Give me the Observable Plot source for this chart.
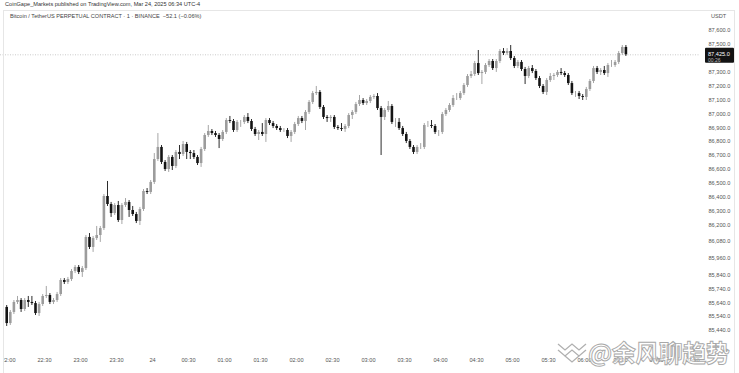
<!DOCTYPE html>
<html>
<head>
<meta charset="utf-8">
<script src="https://cdn.jsdelivr.net/npm/d3@7"></script>
<script src="https://cdn.jsdelivr.net/npm/@observablehq/plot@0.6"></script>
<style>
  html, body { margin: 0; padding: 0; background: #fff; }
  #wrap { position: relative; width: 739px; height: 373px; overflow: hidden; font-family: "Liberation Sans", Arial, sans-serif; }
  #chart { position: absolute; left: 0; top: 10px; width: 739px; }
  #chart svg { display: block; max-width: none; }
  #mask { position: absolute; left: 0; top: 345px; width: 4px; height: 28px; background: #fff; }
  .t { position: absolute; white-space: nowrap; font-size: 5.6px; color: #444; }
  #border { position: absolute; left: 3px; top: 10px; width: 732px; height: 380px; border: 1px solid #e6e6e6; box-sizing: border-box; }
  #wm { position: absolute; left: 588px; top: 334px; font-family: "Noto Sans CJK SC", sans-serif; font-weight: 700; font-size: 24px; letter-spacing: -0.5px; color: rgba(255,255,255,0.55); -webkit-text-stroke: 0.9px #a8a8a8; white-space: nowrap; }
  #logo { position: absolute; left: 556px; top: 338px; }
</style>
</head>
<body>
<div id="wrap">
  <div id="chart"></div>
  <div id="mask"></div>
  <div id="border"></div>
  <div class="t" style="left:5px; top:1px; color:#333;">CoinGape_Markets published on TradingView.com, Mar 24, 2025 06:34 UTC-4</div>
  <div class="t" style="left:10px; top:13px;">Bitcoin / TetherUS PERPETUAL CONTRACT · 1 · BINANCE &nbsp;−52.1 (−0.06%)</div>
  <div class="t" style="left:711px; top:13px; color:#555;">USDT</div>
  <svg id="logo" width="32" height="26" viewBox="0 0 32 26">
    <g fill="none" stroke="#b0b0b0" stroke-width="1.3">
      <path d="M2 6 L9 12 L16 6 L23 12 L30 6"/>
      <path d="M2 12 L9 18 L16 12 L23 18 L30 12"/>
      <path d="M9 18 L16 24 L23 18"/>
    </g>
  </svg>
  <div id="wm">@余风聊趋势</div>
</div>
<script>
// 3-minute candles, BTC/USDT perpetual (Binance), Mar 23 21:57 -> Mar 24 06:33 (UTC-4)
const firstOpen = 85606;
const closes = [
  85490,85570,85642,85656,85591,85656,85642,85634,85562,85627,
  85685,85692,85642,85656,85699,85800,85786,85807,85865,85894,
  85858,85886,86110,86038,86102,86124,86174,86405,86347,86282,
  86340,86232,86340,86362,86304,86275,86225,86311,86441,86434,
  86506,86671,86758,86650,86599,86686,86621,86722,86707,86779,
  86722,86714,86686,86642,86743,86844,86873,86858,86844,86815,
  86866,86952,86945,86880,86938,86938,86974,86945,86887,86851,
  86866,86851,86952,86930,86909,86894,86880,86880,86837,86866,
  86923,86966,86945,87010,87082,87146,87154,87046,86974,86966,
  86974,86902,86894,86887,86909,86988,87010,87067,87096,87074,
  87089,87118,87125,87038,86974,87024,87053,86938,86938,86894,
  86851,86801,86758,86722,86758,86758,86916,86916,86909,86866,
  86866,86995,87024,87060,87110,87110,87146,87204,87269,87283,
  87362,87290,87298,87348,87377,87326,87377,87449,87434,87449,
  87398,87341,87370,87319,87269,87326,87305,87254,87197,87154,
  87240,87269,87276,87298,87290,87276,87218,87146,87146,87125,
  87118,87175,87233,87326,87298,87312,87290,87348,87348,87370,
  87434,87478,87425
];
const highs = [
  85620,85584,85656,85685,85670,85670,85685,85685,85649,85642,
  85699,85757,85706,85670,85714,85814,85814,85822,85879,85908,
  85908,85901,86124,86138,86117,86189,86189,86419,86513,86362,
  86354,86369,86354,86390,86376,86333,86290,86326,86455,86462,
  86520,86714,86858,86772,86664,86700,86700,86736,86772,86801,
  86794,86736,86736,86700,86758,86858,86916,86887,86873,86858,
  86880,86966,86981,86959,86952,86952,86988,87002,86959,86902,
  86880,86930,86966,86966,86945,86923,86909,86894,86894,86880,
  86938,86981,86981,87024,87096,87161,87197,87168,87060,86988,
  86988,86988,86916,86930,86923,87002,87024,87082,87132,87110,
  87103,87132,87139,87146,87053,87038,87089,87067,86966,86966,
  86909,86866,86815,86772,86772,86786,86930,86945,86952,86923,
  86880,87010,87038,87074,87132,87146,87161,87218,87283,87305,
  87377,87456,87312,87362,87391,87391,87391,87463,87470,87470,
  87492,87413,87384,87384,87334,87341,87348,87319,87269,87211,
  87254,87290,87290,87312,87326,87305,87290,87233,87161,87161,
  87139,87190,87247,87341,87341,87326,87341,87362,87384,87384,
  87449,87492,87492
];
const lows = [
  85469,85476,85555,85627,85570,85577,85606,85620,85548,85541,
  85613,85670,85627,85627,85642,85685,85771,85771,85793,85850,
  85843,85822,85872,86023,86002,86088,86074,86160,86333,86254,
  86268,86218,86203,86326,86254,86261,86210,86196,86297,86419,
  86419,86491,86657,86635,86585,86578,86592,86606,86671,86693,
  86671,86671,86671,86628,86614,86729,86830,86844,86830,86750,
  86801,86851,86930,86866,86866,86902,86923,86930,86873,86837,
  86808,86837,86794,86916,86894,86880,86866,86866,86822,86794,
  86851,86909,86930,86880,86995,87067,87132,87031,86959,86938,
  86938,86887,86880,86873,86866,86894,86959,86995,87053,87060,
  87060,87074,87103,87024,86700,86952,87010,86923,86902,86880,
  86837,86786,86743,86707,86707,86743,86743,86902,86894,86851,
  86837,86851,86981,87010,87046,87096,87096,87132,87190,87254,
  87269,87276,87211,87283,87334,87312,87298,87362,87420,87420,
  87384,87326,87326,87305,87211,87254,87290,87240,87182,87139,
  87132,87226,87240,87262,87276,87262,87204,87132,87118,87103,
  87096,87096,87161,87218,87283,87276,87276,87262,87334,87334,
  87355,87420,87413
];
const yTicks = [87600,87500,87300,87200,87100,87000,86900,86800,86700,86600,86500,86400,86300,86200,86080,85960,85840,85740,85640,85540,85440];
const countdown = "00:26";

const start = Date.UTC(2025, 2, 23, 21, 57);
const candles = closes.map((c, i) => ({
  time: new Date(start + (3 * i + 1.5) * 60000),
  open: i === 0 ? firstOpen : closes[i - 1],
  close: c,
  high: highs[i],
  low: lows[i]
}));
const UP = "#9c9c9c", DOWN = "#141414";
const col = d => (d.close >= d.open ? UP : DOWN);
const last = closes[closes.length - 1];

const xTicks = d3.utcMinute.every(30).range(new Date(Date.UTC(2025, 2, 23, 22, 0)), new Date(Date.UTC(2025, 2, 24, 7, 31)));
const hm = d3.utcFormat("%H:%M");
const xFmt = d => (d.getUTCHours() === 0 && d.getUTCMinutes() === 0 ? String(d.getUTCDate()) : hm(d));

const chart = Plot.plot({
  width: 739,
  height: 363,
  marginLeft: 0,
  marginRight: 39,
  marginTop: 20,
  marginBottom: 20,
  style: { fontFamily: "'Liberation Sans', Arial, sans-serif", fontSize: "5.6px", color: "#555", background: "transparent", overflow: "visible" },
  x: { type: "utc", domain: [new Date(Date.UTC(2025, 2, 23, 21, 53, 20)), new Date(Date.UTC(2025, 2, 24, 7, 36, 40))] },
  y: { domain: [85440, 87600], range: [320, 20] },
  marks: [
    Plot.ruleY([last], { stroke: "#b5b5b5", strokeWidth: 0.7, strokeDasharray: "1,1.5" }),
    Plot.ruleX(candles, { x: "time", y1: "low", y2: "high", stroke: col, strokeWidth: 0.9 }),
    Plot.ruleX(candles, { x: "time", y1: "open", y2: "close", stroke: col, strokeWidth: 2.6 }),
    Plot.axisX({ ticks: xTicks, tickFormat: xFmt, tickSize: 0, tickPadding: 4.5, label: null }),
    Plot.axisY({ anchor: "right", ticks: yTicks, tickFormat: d3.format(",.1f"), tickSize: 0, tickPadding: 8, label: null, textAnchor: "start" })
  ]
});
document.getElementById("chart").appendChild(chart);

// last-price tag on the price axis
const ys = chart.scale("y");
const yp = ys.apply(last);
const svg = d3.select(chart);
const g = svg.append("g").attr("text-anchor", "start");
g.append("rect").attr("x", 705).attr("y", yp - 6.5).attr("width", 29).attr("height", 15).attr("fill", "#131313").attr("rx", 1);
g.append("text").attr("x", 708).attr("y", yp + 1.5).attr("fill", "#fff").attr("font-size", "5.6px").text(d3.format(",.1f")(last));
g.append("text").attr("x", 708).attr("y", yp + 7.2).attr("fill", "#bbb").attr("font-size", "5px").text(countdown);
</script>
</body>
</html>
